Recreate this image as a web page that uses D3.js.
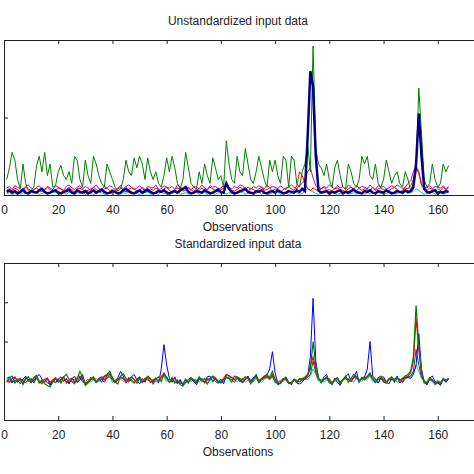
<!DOCTYPE html>
<html>
<head>
<meta charset="utf-8">
<script src="https://cdn.jsdelivr.net/npm/d3@7"></script>
<style>
  body { margin: 0; background: #fff; }
  text { font-family: "Liberation Sans", Arial, sans-serif; fill: #222; }
</style>
</head>
<body>
<svg id="chart" width="474" height="474"></svg>
<script>
// observation ticks shared by both panels
const xTicks = [0, 20, 40, 60, 80, 100, 120, 140, 160];

// top panel: raw values (hundredths of the plotted unit)
const rawGreen = [20,35,55,45,20,8,40,15,5,6,10,38,50,30,55,25,40,10,12,30,
  38,25,20,30,15,50,45,20,10,45,25,15,50,40,25,15,10,40,30,20,
  10,5,8,20,45,30,25,48,35,50,40,20,48,30,20,30,15,10,25,48,
  30,50,35,15,8,20,55,35,15,10,8,30,15,40,25,15,48,35,20,25,
  10,70,40,20,15,50,30,25,60,40,20,15,30,50,35,20,10,45,30,45,
  25,15,50,45,10,50,45,15,10,30,40,65,30,192,60,40,35,25,40,20,
  10,35,45,25,10,8,40,30,15,10,20,50,40,50,25,20,40,15,10,20,
  45,30,15,25,30,15,10,30,20,5,15,30,138,80,20,10,15,40,20,10,
  15,40,30,38];
const rawBlue = [4,6,3,5,2,4,7,3,2,5,4,3,6,8,4,2,3,5,6,3,
  2,4,5,7,3,2,6,4,3,5,2,4,6,3,5,7,4,2,3,5,
  4,2,3,6,8,5,3,2,4,6,3,5,7,4,2,3,5,4,6,3,
  2,4,5,3,6,8,10,4,2,3,5,4,3,6,4,2,3,5,7,4,
  3,15,8,4,2,3,5,6,8,4,3,2,5,4,6,3,2,4,5,3,
  6,4,2,3,5,4,3,6,4,8,5,75,160,140,50,6,3,4,5,2,
  4,3,5,6,2,4,3,5,7,4,3,2,5,4,6,3,2,5,4,3,
  6,4,2,3,5,4,3,6,4,5,10,40,105,50,8,4,3,5,6,2,
  4,3,5,4];
const rawRed = [6,8,5,9,7,4,6,10,8,5,7,9,6,4,8,10,7,5,6,9,
  8,5,7,10,6,4,8,9,7,5,6,8,10,7,5,4,8,9,6,7,
  5,8,10,6,4,7,9,8,5,6,10,7,4,8,6,9,7,5,8,10,
  6,4,7,9,8,5,6,10,7,4,8,6,9,5,7,10,8,6,4,7,
  9,12,8,6,5,7,10,8,6,4,9,7,5,8,10,6,7,9,5,8,
  6,4,7,9,10,8,6,12,30,25,15,8,6,9,7,5,8,10,6,7,
  5,8,9,7,6,4,8,10,7,5,9,6,8,7,5,10,6,8,9,7,
  5,6,8,10,7,4,6,9,8,12,20,35,28,12,8,6,9,7,5,8,
  6,10,7,9];
const rawMagenta = [9,11,7,12,10,8,6,11,13,9,7,10,12,8,6,11,9,7,12,10,
  8,6,11,13,9,7,10,12,8,11,9,6,10,13,8,7,11,9,12,10,
  7,9,12,8,11,13,10,7,9,12,8,6,11,10,9,13,7,8,12,10,
  9,11,7,13,10,8,12,9,6,11,10,8,13,9,7,12,10,11,8,9,
  12,14,10,8,11,9,13,12,8,10,7,11,9,12,10,8,13,9,11,10,
  8,12,9,7,11,13,10,8,12,15,20,30,35,22,12,10,8,11,9,13,
  10,8,12,9,11,7,13,10,8,12,9,11,10,8,13,9,7,12,10,11,
  8,9,12,10,13,11,8,10,15,18,30,38,30,14,10,9,12,8,11,10,
  9,12,8,11];
const rawCyan = [2,3,1,2,4,1,3,2,1,3,2,4,1,2,3,1,2,4,3,1,
  2,3,1,4,2,1,3,2,4,1,3,2,1,2,4,3,1,2,3,1,
  4,2,1,3,2,4,1,3,2,1,2,3,4,1,2,3,1,4,2,3,
  1,2,3,4,1,2,3,1,2,4,3,1,2,3,1,4,2,1,3,2,
  4,1,3,2,1,2,4,3,1,2,3,1,2,4,1,3,2,1,3,2,
  4,1,2,3,1,2,4,3,1,2,5,8,6,4,2,1,3,2,4,1,
  3,2,1,2,4,3,1,2,3,1,4,2,1,3,2,4,1,3,2,1,
  2,3,4,1,2,3,1,4,2,3,5,8,6,3,1,2,3,4,1,2,
  3,1,2,4];

// bottom panel: standardized values (tenths of a standard deviation)
const stdBlue = [3,5,-2,4,1,-4,2,6,-1,3,-3,5,8,2,-2,4,-6,1,-3,2,
  5,-1,3,-4,2,6,-2,1,8,-5,-3,2,4,-1,3,-2,5,7,10,3,
  -2,4,12,6,-3,2,5,8,1,-4,3,-2,6,2,-1,4,-3,15,46,20,
  3,-2,5,-4,1,-6,-3,2,4,-1,-5,3,1,-2,5,6,-1,3,-3,2,
  -4,8,6,4,2,5,1,-2,3,6,-1,4,8,-3,2,5,7,15,37,10,
  -3,-4,2,5,-2,-5,1,-3,-4,-2,3,6,30,105,25,3,-2,5,8,-1,
  -4,3,-2,-6,2,5,9,-1,3,12,-2,4,5,15,50,6,2,-3,4,5,
  -2,-4,3,1,6,-3,2,5,4,3,8,20,60,15,-2,-5,3,6,-1,-3,
  -6,2,-2,3];
const stdGreen = [-2,4,6,-3,1,3,-5,2,5,-2,4,7,-3,1,-4,-6,-8,-2,3,1,
  -3,5,8,2,-1,-4,3,12,4,-6,-3,2,5,-2,1,3,6,8,12,4,
  -2,-4,6,9,3,-1,5,2,-3,4,-2,1,6,3,-4,2,5,-1,8,5,
  -2,4,-3,1,-5,-7,2,-3,4,1,-2,5,-1,3,-4,2,6,4,-2,-3,
  1,5,3,-2,6,4,-1,2,5,3,-4,1,7,-2,3,6,8,4,12,2,
  -5,-3,1,4,-2,-3,2,-1,3,1,5,8,15,50,20,4,-3,2,5,-1,
  -5,2,4,-3,1,6,-2,3,8,5,-1,4,2,6,10,3,-2,4,6,-1,
  -3,2,5,-2,4,1,3,6,8,12,30,96,45,10,-3,-2,4,1,-5,-2,
  -4,3,1,2];
const stdRed = [1,-2,3,5,-1,2,-3,4,1,-2,3,6,-1,-4,2,3,-2,1,4,-1,
  2,5,-3,1,3,-2,4,6,2,-3,-1,4,2,-2,3,5,1,6,8,3,
  -1,2,5,3,-2,4,1,-3,2,5,-1,3,4,-2,1,3,-1,5,10,4,
  -2,1,3,-1,-3,-4,2,-2,3,1,-1,4,2,-3,1,3,5,2,-1,-2,
  3,8,6,4,1,5,3,-1,2,4,-2,3,5,1,2,4,6,3,8,2,
  -2,-1,3,2,-3,-2,1,-1,2,3,4,6,20,30,15,3,-1,2,4,1,
  -3,2,3,-2,1,4,2,-1,5,3,1,2,4,5,8,3,-1,2,4,1,
  -2,3,4,1,3,2,-1,4,6,10,25,80,40,8,-1,-2,3,1,-3,-1,
  -2,2,1,3];
const stdBlack = [-1,2,-3,1,-2,3,-1,-2,2,-3,1,4,-2,-1,2,-3,-4,-1,2,-2,
  1,3,-1,-3,2,1,-2,5,-1,-4,-2,1,3,-3,1,2,-2,4,6,1,
  -3,1,4,2,-2,3,-1,-2,1,4,-3,2,1,-1,-2,3,-1,4,8,2,
  -1,3,-2,-3,-1,-5,1,-2,2,-1,-3,2,1,-2,3,1,4,-1,-3,-1,
  2,4,3,1,-2,3,1,-3,2,5,-1,2,4,-2,1,3,5,2,6,-1,
  -4,-3,2,1,-4,-3,1,-2,-1,1,2,4,8,25,10,2,-2,1,3,-3,
  -4,1,3,-4,2,3,-1,2,4,6,-2,3,1,4,8,2,-3,1,3,-2,
  -3,1,2,-1,3,2,-2,3,5,6,12,40,20,5,-2,-4,2,-1,-4,-3,
  -3,1,-1,2];
const stdCyan = [2,-1,1,-2,3,-1,2,-3,1,2,-2,3,1,-2,-1,2,-5,1,-1,3,
  -2,1,2,-2,3,-1,1,3,-2,-1,2,-2,1,3,-1,2,1,3,5,-2,
  1,3,2,-1,2,-2,4,1,-1,2,-2,1,3,-1,2,-2,1,3,6,-1,
  2,-1,1,-3,2,-4,-2,1,-1,2,1,-2,3,-1,2,1,-2,3,1,-2,
  -1,3,5,2,1,-1,2,3,-2,1,2,-1,3,1,-2,2,4,1,5,-3,
  -2,1,-1,3,-2,-4,2,1,-2,3,2,1,6,15,8,-1,2,-2,1,3,
  -2,-1,2,-5,1,2,3,1,-2,4,2,-1,3,2,6,-1,2,-3,2,3,
  -1,2,1,3,-2,1,3,2,4,5,10,20,12,3,1,-5,2,-1,-2,1,
  -4,2,1,3];

const topSeries = [
  {v: rawCyan, color: '#00bfbf', w: 1},
  {v: rawMagenta, color: '#bf00bf', w: 1},
  {v: rawRed, color: '#ff0000', w: 1},
  {v: rawGreen, color: '#008000', w: 1},
  {v: rawBlue, color: '#000080', w: 2.5}
];
const bottomSeries = [
  {v: stdCyan, color: '#00bfbf', w: 1},
  {v: stdBlack, color: '#404040', w: 1},
  {v: stdBlue, color: '#0000ff', w: 1},
  {v: stdRed, color: '#ff0000', w: 1.2},
  {v: stdGreen, color: '#008000', w: 1.2}
];

const svg = d3.select('#chart');

function panel(opts) {
  const {top, bottom, title, series, yDomain, yTicks, scale, id} = opts;
  const x = d3.scaleLinear().domain([0, 180]).range([4, 492]);
  const y = d3.scaleLinear().domain(yDomain).range([bottom, top]);
  const g = svg.append('g');

  g.append('clipPath').attr('id', id).append('rect')
      .attr('x', x(0)).attr('y', top).attr('width', x(180) - x(0)).attr('height', bottom - top);

  const line = d3.line()
      .x((d, i) => x(i + 1))
      .y(d => y(d * scale));

  g.append('g').attr('clip-path', `url(#${id})`)
    .selectAll('path').data(series).join('path')
      .attr('d', s => line(s.v))
      .attr('fill', 'none')
      .attr('stroke', s => s.color)
      .attr('stroke-width', s => s.w);

  // box
  g.append('rect')
      .attr('x', x(0) + 0.5).attr('y', top + 0.5)
      .attr('width', x(180) - x(0)).attr('height', bottom - top)
      .attr('fill', 'none').attr('stroke', '#222');

  // inward ticks, MATLAB-style
  const xa = d3.axisBottom(x).tickValues(xTicks).tickSize(-4).tickPadding(10);
  g.append('g').attr('transform', `translate(0,${bottom})`).call(xa)
    .call(a => a.select('.domain').remove())
    .selectAll('text').style('font-size', '12px').style('font-family', '"Liberation Sans", Arial, sans-serif').attr('fill', '#222');
  g.append('g').attr('transform', `translate(0,${top})`)
    .call(d3.axisTop(x).tickValues(xTicks).tickSize(-4).tickFormat(''))
    .call(a => a.select('.domain').remove());
  g.append('g').attr('transform', `translate(${x(0)},0)`)
    .call(d3.axisLeft(y).tickValues(yTicks).tickSize(-4).tickFormat(''))
    .call(a => a.select('.domain').remove());
  g.selectAll('.tick line').attr('stroke', '#222');

  g.append('text').attr('x', 238).attr('y', top - 15).attr('text-anchor', 'middle')
      .style('font-size', '12px').text(title);
  g.append('text').attr('x', 238).attr('y', bottom + 36).attr('text-anchor', 'middle')
      .style('font-size', '12px').text('Observations');
}

panel({id: 'c1', top: 40, bottom: 195, title: 'Unstandardized input data',
  series: topSeries, yDomain: [0, 2], yTicks: [1], scale: 0.01});
panel({id: 'c2', top: 263, bottom: 420, title: 'Standardized input data',
  series: bottomSeries, yDomain: [-5, 15], yTicks: [5, 10], scale: 0.1});
</script>
</body>
</html>
